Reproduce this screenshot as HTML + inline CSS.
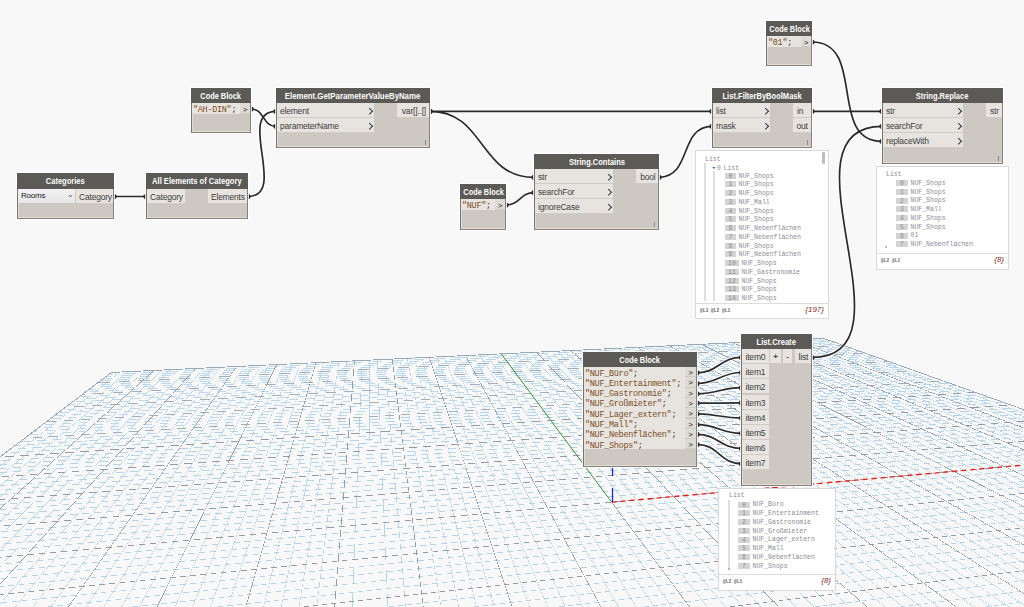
<!DOCTYPE html><html><head><meta charset="utf-8"><style>
*{margin:0;padding:0;box-sizing:border-box}
html,body{width:1024px;height:607px;overflow:hidden;background:#f8f8f8}
body{position:relative;font-family:"Liberation Sans",sans-serif}
svg{position:absolute;left:0;top:0}
.n{position:absolute;background:#cdc8c1;box-shadow:0 0 0 1px rgba(255,255,255,.85),inset 1px 0 0 #77736d,inset -1px -1px 0 #86817a,inset 2px -2px 0 #e2ddd4}
.h{position:absolute;left:0;top:0;right:0;background:#5c5a57;color:#fff;font-weight:bold;font-size:8.6px;text-align:center;white-space:nowrap}
.h span{display:inline-block}
.p,.cp,.pb,.dd{position:absolute;background:#e7e4df;color:#3c3c3c;font-size:8.5px;letter-spacing:-0.2px;white-space:nowrap;padding-left:3px;box-shadow:inset 0 -1px 0 #d0ccc5}
.cp{font-size:8px;text-align:center;padding:0;background:#dedad4;color:#101018}
.pb{text-align:center;padding:0;font-weight:bold;font-size:8px;line-height:15px!important}
.dd{background:linear-gradient(#f2f2f2,#e6e6e6);color:#1a1a1a;padding-left:3px;box-shadow:none;font-size:8px!important}
.ddc{position:absolute;right:1px;top:-1px;font-size:8px;color:#555}
.cv{position:absolute;right:2.5px;top:5.5px;width:4.5px;height:4.5px;border-right:1.9px solid #2a3a4c;border-bottom:1.9px solid #2a3a4c;transform:rotate(-45deg)}
.cbrow{position:absolute;left:1px;background:#e7e4df}
.cl{position:absolute;left:2px;z-index:2;font-family:"Liberation Mono",monospace;font-size:8.5px;letter-spacing:-0.3px;line-height:11px;color:#2a2a2a;white-space:nowrap}
.cl s{text-decoration:none;color:#7c4c24}
.lc{position:absolute;right:4.5px;bottom:3.5px;width:1px;height:5px;background:#8a8a9a}
.pvl div{position:absolute;white-space:nowrap;font-family:"Liberation Mono",monospace;font-size:6.5px;color:#8c8c98}
.pvl .pv{background:#fff;border:1px solid #d9d9d9}
.lt{color:#a07a70;line-height:8px}
.ixn{color:#90a0b8;line-height:8px}
.tl{width:2px;background:#dedede}
.ix{background:#d4d4d4;color:#8a8a96;text-align:center;height:6px;line-height:7px}
.it{line-height:8px}
.pvl .pf{height:1px;background:#dcdcdc}
.pvl .lv{font-size:4.6px;color:#666;line-height:5px;font-weight:bold}
.pvl .ct{font-family:"Liberation Sans",sans-serif;font-style:italic;font-size:8px;color:#8a2a2a;text-align:right;line-height:10px}
.sb{width:2.6px;height:12px;background:#bdbdbd;border-radius:1.3px}
.pvl .dot{width:2px;height:2px;background:#a8a8a8;border-radius:1px}
.arr{width:0;height:0;border-left:2px solid transparent;border-right:2px solid transparent;border-top:2.5px solid #4a86c8}
</style></head><body>
<svg class="grid" width="1024" height="607" viewBox="0 0 1024 607">
<path d="M-901.00 1171.79L120.10 372.28L119.76 371.84L-901.34 1171.36ZM-847.06 1161.33L128.67 371.87L128.32 371.44L-847.40 1160.90ZM-794.23 1151.08L137.19 371.46L136.84 371.03L-794.58 1150.66ZM-742.49 1141.05L145.68 371.05L145.32 370.63L-742.85 1140.63ZM-642.13 1121.59L162.56 370.23L162.19 369.83L-642.51 1121.19ZM-593.46 1112.15L170.95 369.83L170.57 369.44L-593.84 1111.75ZM-545.74 1102.89L179.30 369.43L178.91 369.04L-546.14 1102.51ZM-498.96 1093.82L187.62 369.03L187.22 368.65L-499.36 1093.44ZM-408.09 1076.19L204.15 368.23L203.74 367.87L-408.51 1075.83ZM-363.95 1067.63L212.37 367.83L211.95 367.48L-364.38 1067.28ZM-320.65 1059.23L220.56 367.43L220.12 367.10L-321.08 1058.89ZM-278.14 1050.98L228.71 367.04L228.26 366.71L-278.59 1050.66ZM-195.48 1034.94L244.91 366.25L244.45 365.95L-195.93 1034.64ZM-155.27 1027.14L252.96 365.86L252.49 365.57L-155.73 1026.85ZM-115.78 1019.48L260.98 365.47L260.51 365.20L-116.26 1019.20ZM-77.00 1011.95L268.97 365.08L268.48 364.82L-77.48 1011.69ZM-1.47 997.29L284.85 364.31L284.35 364.08L-1.97 997.07ZM35.32 990.15L292.74 363.92L292.23 363.71L34.81 989.94ZM71.46 983.14L300.60 363.54L300.09 363.35L70.95 982.95ZM107.00 976.24L308.43 363.16L307.91 362.98L106.47 976.07ZM176.27 962.79L323.99 362.39L323.46 362.26L175.74 962.66ZM210.04 956.23L331.73 362.01L331.19 361.90L209.50 956.12ZM243.26 949.78L339.43 361.63L338.89 361.54L242.72 949.69ZM275.93 943.43L347.11 361.26L346.56 361.19L275.38 943.37ZM339.69 931.05L362.36 360.50L361.81 360.48L339.14 931.03ZM370.81 925.00L369.94 360.13L369.39 360.13L370.26 925.00ZM401.44 919.05L377.50 359.76L376.95 359.78L400.89 919.08ZM431.58 913.20L385.02 359.39L384.47 359.43L431.03 913.24ZM490.46 901.76L399.97 358.65L399.43 358.74L489.92 901.85ZM519.22 896.17L407.41 358.29L406.87 358.40L518.69 896.28ZM547.55 890.67L414.81 357.92L414.28 358.05L547.02 890.80ZM575.44 885.25L422.19 357.56L421.66 357.71L574.92 885.40ZM629.99 874.65L436.85 356.84L436.34 357.03L629.47 874.84ZM656.65 869.47L444.14 356.48L443.64 356.69L656.15 869.68ZM682.93 864.37L451.41 356.12L450.90 356.35L682.43 864.60ZM708.82 859.34L458.64 355.77L458.15 356.02L708.33 859.58ZM759.49 849.50L473.02 355.07L472.55 355.34L759.01 849.77ZM784.28 844.68L480.17 354.72L479.71 355.01L783.81 844.97ZM808.72 839.94L487.30 354.37L486.84 354.68L808.26 840.24ZM832.81 835.26L494.40 354.03L493.95 354.34L832.36 835.57ZM880.00 826.09L508.51 353.34L508.08 353.68L879.57 826.43ZM903.11 821.61L515.53 353.00L515.10 353.35L902.69 821.96ZM925.90 817.18L522.52 352.66L522.10 353.02L925.49 817.54ZM948.39 812.82L529.48 352.32L529.07 352.69L947.98 813.19ZM992.45 804.27L543.33 351.65L542.94 352.04L992.06 804.65ZM1014.04 800.07L550.22 351.32L549.84 351.71L1013.65 800.47ZM1035.34 795.94L557.08 350.99L556.70 351.39L1034.97 796.34ZM1056.37 791.86L563.92 350.66L563.55 351.07L1056.00 792.27ZM1097.60 783.86L577.51 350.00L577.16 350.42L1097.25 784.28ZM1117.82 779.93L584.27 349.67L583.93 350.10L1117.47 780.36ZM1137.78 776.06L591.01 349.35L590.67 349.78L1137.44 776.49ZM1157.48 772.24L597.72 349.03L597.39 349.46L1157.15 772.67ZM1196.15 764.73L611.06 348.38L610.75 348.83L1195.83 765.18ZM1215.12 761.05L617.70 348.06L617.39 348.52L1214.81 761.50ZM1233.86 757.42L624.32 347.75L624.01 348.20L1233.55 757.87ZM1252.36 753.82L630.90 347.43L630.60 347.89L1252.06 754.29ZM1288.70 746.78L644.01 346.80L643.72 347.27L1288.41 747.24ZM1306.54 743.31L650.53 346.49L650.24 346.96L1306.25 743.78ZM1324.16 739.90L657.02 346.17L656.74 346.65L1323.88 740.37ZM1341.58 736.52L663.49 345.86L663.22 346.34L1341.30 736.99ZM1375.78 729.88L676.36 345.25L676.10 345.73L1375.52 730.36ZM1392.59 726.62L682.77 344.94L682.51 345.42L1392.33 727.11ZM1409.19 723.40L689.14 344.63L688.89 345.12L1408.94 723.89ZM1425.61 720.22L695.50 344.33L695.25 344.82L1425.36 720.70ZM1457.87 713.96L708.14 343.72L707.90 344.21L1457.63 714.45ZM1473.73 710.88L714.43 343.42L714.19 343.92L1473.49 711.38ZM1489.40 707.84L720.70 343.12L720.46 343.62L1489.17 708.34ZM1504.90 704.83L726.94 342.82L726.71 343.32L1504.67 705.33ZM1535.38 698.92L739.36 342.23L739.13 342.73L1535.15 699.42ZM1550.36 696.02L745.54 341.93L745.31 342.43L1550.14 696.52ZM1565.18 693.14L751.69 341.64L751.47 342.14L1564.97 693.65ZM1579.84 690.30L757.83 341.34L757.61 341.85L1579.63 690.81ZM1608.68 684.71L770.03 340.76L769.82 341.27L1608.47 685.21ZM1622.87 681.95L776.10 340.47L775.89 340.98L1622.66 682.46ZM1636.90 679.23L782.15 340.18L781.94 340.69L1636.70 679.74ZM1650.78 676.54L788.17 339.89L787.97 340.40L1650.58 677.05ZM1678.11 671.24L800.17 339.31L799.97 339.83L1677.92 671.75ZM1691.56 668.63L806.13 339.03L805.94 339.54L1691.37 669.15ZM1704.86 666.05L812.08 338.74L811.89 339.26L1704.68 666.57ZM1718.03 663.50L818.00 338.46L817.81 338.98L1717.85 664.01ZM-891.04 1133.08L1697.88 649.70L1697.77 649.16L-891.14 1132.54ZM-831.96 1088.28L1666.30 638.47L1666.20 637.93L-832.06 1087.73ZM-778.18 1047.48L1636.19 627.76L1636.10 627.21L-778.27 1046.94ZM-729.00 1010.18L1607.45 617.53L1607.36 616.99L-729.09 1009.64ZM-642.30 944.41L1553.70 598.41L1553.62 597.86L-642.38 943.87ZM-603.88 915.27L1528.55 589.46L1528.46 588.91L-603.97 914.73ZM-568.28 888.27L1504.43 580.88L1504.35 580.33L-568.36 887.72ZM-535.19 863.17L1481.30 572.65L1481.23 572.10L-535.27 862.62ZM-475.55 817.93L1437.76 557.16L1437.69 556.61L-475.63 817.38ZM-448.59 797.48L1417.25 549.86L1417.17 549.31L-448.66 796.93ZM-423.29 778.29L1397.50 542.83L1397.43 542.29L-423.36 777.74ZM-399.51 760.25L1378.49 536.07L1378.42 535.52L-399.58 759.71ZM-355.99 727.24L1342.50 523.26L1342.43 522.71L-356.06 726.70ZM-336.03 712.10L1325.45 517.19L1325.38 516.65L-336.09 711.55ZM-317.14 697.77L1308.98 511.34L1308.92 510.79L-317.20 697.22ZM-299.23 684.19L1293.08 505.68L1293.02 505.13L-299.29 683.64ZM-266.08 659.04L1262.83 494.91L1262.77 494.37L-266.14 658.49ZM-250.70 647.38L1248.44 489.79L1248.38 489.25L-250.76 646.83ZM-236.06 636.27L1234.50 484.83L1234.44 484.29L-236.11 635.72ZM-222.09 625.67L1221.00 480.03L1220.94 479.48L-222.14 625.12ZM-195.99 605.88L1195.22 470.86L1195.17 470.31L-196.05 605.33ZM-183.79 596.62L1182.91 466.48L1182.86 465.93L-183.84 596.07ZM-172.10 587.76L1170.96 462.23L1170.91 461.68L-172.16 587.21ZM-160.90 579.26L1159.35 458.10L1159.30 457.55L-160.95 578.71ZM-139.83 563.28L1137.12 450.19L1137.07 449.64L-139.88 562.73ZM-129.91 555.75L1126.47 446.40L1126.42 445.85L-129.96 555.21ZM-120.37 548.52L1116.11 442.71L1116.06 442.16L-120.42 547.97ZM-111.19 541.55L1106.03 439.12L1105.98 438.58L-111.24 541.00ZM-93.82 528.38L1086.66 432.23L1086.62 431.68L-93.87 527.83ZM-85.60 522.14L1077.36 428.92L1077.31 428.37L-85.64 521.59ZM-77.66 516.12L1068.29 425.69L1068.25 425.15L-77.71 515.57ZM-70.00 510.31L1059.45 422.55L1059.41 422.00L-70.04 509.76ZM-55.43 499.26L1042.43 416.49L1042.39 415.94L-55.48 498.71ZM-48.51 494.01L1034.23 413.58L1034.19 413.03L-48.55 493.46ZM-41.80 488.92L1026.22 410.73L1026.18 410.18L-41.84 488.37ZM-35.31 484.00L1018.41 407.95L1018.37 407.40L-35.35 483.45ZM-22.92 474.60L1003.33 402.58L1003.29 402.03L-22.96 474.05ZM-17.01 470.11L996.05 399.99L996.01 399.44L-17.05 469.57ZM-11.27 465.76L988.93 397.46L988.90 396.91L-11.31 465.21ZM-5.70 461.54L981.98 394.99L981.94 394.44L-5.74 460.99ZM4.96 453.45L968.53 390.20L968.49 389.65L4.93 452.90ZM10.07 449.57L962.02 387.88L961.98 387.33L10.04 449.02ZM15.04 445.80L955.65 385.62L955.62 385.07L15.00 445.25ZM19.87 442.14L949.42 383.40L949.39 382.85L19.84 441.59Z" fill="#b6d4e8" shape-rendering="crispEdges"/>
<path d="M29.15 435.07L937.34 379.08L937.31 378.58L29.12 434.58ZM33.61 431.69L931.49 377.00L931.46 376.50L33.58 431.20ZM37.95 428.40L925.76 374.96L925.73 374.46L37.92 427.90ZM42.18 425.19L920.15 372.96L920.12 372.46L42.15 424.69ZM50.33 419.01L909.25 369.08L909.22 368.58L50.30 418.51ZM54.25 416.04L903.96 367.20L903.93 366.70L54.22 415.54ZM58.08 413.13L898.77 365.36L898.74 364.86L58.05 412.63ZM61.81 410.30L893.69 363.55L893.66 363.05L61.78 409.80ZM69.02 404.83L883.80 360.03L883.77 359.53L68.99 404.33ZM72.50 402.19L879.00 358.32L878.97 357.82L72.47 401.69ZM75.90 399.61L874.28 356.64L874.25 356.14L75.87 399.12ZM79.22 397.09L869.65 354.99L869.62 354.49L79.19 396.60ZM85.64 392.22L860.64 351.79L860.62 351.29L85.62 391.72ZM88.75 389.86L856.26 350.23L856.23 349.73L88.73 389.37ZM91.79 387.56L851.95 348.70L851.93 348.20L91.77 387.06ZM94.76 385.30L847.72 347.19L847.70 346.69L94.74 384.80ZM100.53 380.93L839.48 344.26L839.46 343.76L100.50 380.43ZM103.32 378.82L835.47 342.83L835.44 342.33L103.29 378.32ZM106.05 376.74L831.52 341.43L831.50 340.93L106.03 376.24ZM108.73 374.71L827.64 340.04L827.61 339.55L108.70 374.21Z" fill="#bcd8ea" shape-rendering="crispEdges"/>
<path d="M-956.22 1182.53L1731.03 661.50L1730.92 660.96L-956.33 1181.99ZM-683.87 975.94L1579.98 607.76L1579.89 607.21L-683.96 975.40ZM-504.35 839.78L1459.10 564.75L1459.02 564.20L-504.43 839.23ZM-377.12 743.27L1360.17 529.55L1360.10 529.00L-377.19 742.72ZM-282.23 671.29L1277.70 500.21L1277.64 499.66L-282.29 670.75ZM-208.74 615.55L1207.91 475.37L1207.86 474.83L-208.80 615.00ZM-150.15 571.11L1148.08 454.09L1148.03 453.54L-150.20 570.56ZM-102.35 534.84L1096.22 435.63L1096.17 435.08L-102.39 534.30ZM-62.59 504.69L1050.83 419.48L1050.79 418.94L-62.64 504.14ZM-29.02 479.23L1010.78 405.23L1010.74 404.68L-29.06 478.68ZM-0.29 457.43L975.18 392.57L975.14 392.02L-0.33 456.88Z" fill="#939ca4" shape-rendering="crispEdges"/>
<path d="M24.57 438.57L943.32 381.23L943.28 380.68L24.54 438.02ZM46.31 422.09L914.64 371.03L914.61 370.48L46.27 421.54ZM65.46 407.56L888.70 361.79L888.67 361.25L65.43 407.01ZM82.47 394.66L865.11 353.40L865.08 352.85L82.44 394.11ZM97.68 383.12L843.57 345.74L843.54 345.19L97.65 382.57Z" fill="#a6aeb5" shape-rendering="crispEdges"/>
<path d="M-691.78 1131.24L154.16 370.66L153.76 370.21L-692.19 1130.79ZM-453.07 1084.94L195.92 368.64L195.48 368.24L-453.52 1084.53ZM-236.41 1042.90L236.84 366.66L236.35 366.32L-236.90 1042.56ZM-38.87 1004.57L276.95 364.71L276.41 364.44L-39.41 1004.30ZM141.95 969.46L316.25 362.78L315.67 362.61L141.37 969.30ZM308.10 937.19L354.77 360.88L354.18 360.83L307.50 937.14ZM461.27 907.43L392.54 359.02L391.94 359.09L460.68 907.51ZM602.94 879.90L429.56 357.19L428.99 357.38L602.38 880.09ZM734.36 854.37L465.87 355.41L465.34 355.69L733.83 854.66ZM856.59 830.63L501.49 353.67L501.00 354.03L856.11 830.99ZM970.58 808.50L536.44 351.97L536.00 352.38L970.15 808.91ZM1077.13 787.81L570.74 350.31L570.35 350.76L1076.74 788.27ZM1176.95 768.44L604.42 348.68L604.06 349.17L1176.60 768.92ZM1270.66 750.26L637.48 347.09L637.16 347.60L1270.33 750.76ZM1358.79 733.16L669.95 345.53L669.66 346.06L1358.50 733.68ZM1441.84 717.05L701.84 344.00L701.57 344.54L1441.57 717.58ZM1520.24 701.84L733.17 342.50L732.92 343.05L1519.99 702.39ZM1594.35 687.46L763.95 341.03L763.72 341.58L1594.12 688.02ZM1664.53 673.85L794.19 339.58L793.97 340.14L1664.31 674.41Z" fill="#929ca4" shape-rendering="crispEdges"/>
<path d="M-956.00 1182.62L111.61 372.83L111.07 372.11L-956.55 1181.90ZM1731.12 660.80L823.96 338.01L823.66 338.86L1730.82 661.65ZM111.36 372.92L823.83 338.89L823.79 337.99L111.32 372.02Z" fill="#98aab8" shape-rendering="crispEdges"/>
<path d="M611.67 502.16L501.25 353.85" stroke="#3a9a3a" stroke-width="0.9" fill="none"/>
<path d="M611.67 502.16L1236.83 445.81" stroke="#e8201c" stroke-width="1.4" stroke-dasharray="5 4" fill="none"/>
<path d="M612.5 502L612.5 488M612.5 476L612.5 466" stroke="#1a2ee0" stroke-width="1.3" fill="none"/>
</svg>
<svg class="wires" width="1024" height="607"><path d="M114 196.5C128.4 196.5 131.6 196.5 146 196.5M248 196.5C288.4 196.5 235.6 111.3 276 111.3M251 109C264.7 109 262.3 126.3 276 126.3M430 111.3C556.9 111.3 585.1 111.3 712 111.3M430 111.3C485.4 111.3 478.6 177.3 534 177.3M506 205C519.8 205 520.2 192.6 534 192.6M659 177.3C692.1 177.3 678.9 126.3 712 126.3M812 111.3C843.5 111.3 850.5 111.3 882 111.3M812 42C866.7 42 827.3 141.3 882 141.3M812 357.5C920.7 357.5 773.3 126.3 882 126.3M697 372.8C718.2 372.8 720.3 357.3 741.5 357.3M697 383.5C717.6 383.5 720.9 372.5 741.5 372.5M697 393.8C717.2 393.8 721.3 387.7 741.5 387.7M697 403.2C717.0 403.2 721.5 402.9 741.5 402.9M697 413.9C717.1 413.9 721.4 418.1 741.5 418.1M697 424.6C717.4 424.6 721.1 433.3 741.5 433.3M697 434.4C718.0 434.4 720.5 448.5 741.5 448.5M697 444.5C718.8 444.5 719.7 463.7 741.5 463.7" stroke="#fff" stroke-opacity="0.7" stroke-width="4" fill="none"/><path d="M114 196.5C128.4 196.5 131.6 196.5 146 196.5M248 196.5C288.4 196.5 235.6 111.3 276 111.3M251 109C264.7 109 262.3 126.3 276 126.3M430 111.3C556.9 111.3 585.1 111.3 712 111.3M430 111.3C485.4 111.3 478.6 177.3 534 177.3M506 205C519.8 205 520.2 192.6 534 192.6M659 177.3C692.1 177.3 678.9 126.3 712 126.3M812 111.3C843.5 111.3 850.5 111.3 882 111.3M812 42C866.7 42 827.3 141.3 882 141.3M812 357.5C920.7 357.5 773.3 126.3 882 126.3M697 372.8C718.2 372.8 720.3 357.3 741.5 357.3M697 383.5C717.6 383.5 720.9 372.5 741.5 372.5M697 393.8C717.2 393.8 721.3 387.7 741.5 387.7M697 403.2C717.0 403.2 721.5 402.9 741.5 402.9M697 413.9C717.1 413.9 721.4 418.1 741.5 418.1M697 424.6C717.4 424.6 721.1 433.3 741.5 433.3M697 434.4C718.0 434.4 720.5 448.5 741.5 448.5M697 444.5C718.8 444.5 719.7 463.7 741.5 463.7" stroke="#2b2b2b" stroke-width="1.7" fill="none"/><g fill="#2a2a2a"><circle cx="114" cy="196.5" r="2.6"/><circle cx="146" cy="196.5" r="2.6"/><circle cx="248" cy="196.5" r="2.6"/><circle cx="276" cy="111.3" r="2.6"/><circle cx="251" cy="109" r="2.6"/><circle cx="276" cy="126.3" r="2.6"/><circle cx="430" cy="111.3" r="2.6"/><circle cx="712" cy="111.3" r="2.6"/><circle cx="430" cy="111.3" r="2.6"/><circle cx="534" cy="177.3" r="2.6"/><circle cx="506" cy="205" r="2.6"/><circle cx="534" cy="192.6" r="2.6"/><circle cx="659" cy="177.3" r="2.6"/><circle cx="712" cy="126.3" r="2.6"/><circle cx="812" cy="111.3" r="2.6"/><circle cx="882" cy="111.3" r="2.6"/><circle cx="812" cy="42" r="2.6"/><circle cx="882" cy="141.3" r="2.6"/><circle cx="812" cy="357.5" r="2.6"/><circle cx="882" cy="126.3" r="2.6"/><circle cx="697" cy="372.8" r="2.6"/><circle cx="741.5" cy="357.3" r="2.6"/><circle cx="697" cy="383.5" r="2.6"/><circle cx="741.5" cy="372.5" r="2.6"/><circle cx="697" cy="393.8" r="2.6"/><circle cx="741.5" cy="387.7" r="2.6"/><circle cx="697" cy="403.2" r="2.6"/><circle cx="741.5" cy="402.9" r="2.6"/><circle cx="697" cy="413.9" r="2.6"/><circle cx="741.5" cy="418.1" r="2.6"/><circle cx="697" cy="424.6" r="2.6"/><circle cx="741.5" cy="433.3" r="2.6"/><circle cx="697" cy="434.4" r="2.6"/><circle cx="741.5" cy="448.5" r="2.6"/><circle cx="697" cy="444.5" r="2.6"/><circle cx="741.5" cy="463.7" r="2.6"/></g></svg>
<div class="n" style="left:17px;top:173px;width:97px;height:46px"><div class="h" style="height:16px;line-height:17px"><span style="transform:scaleX(0.873)">Categories</span></div><div class="dd" style="left:1px;top:16px;width:57px;height:14px;line-height:14px">Rooms<span class="ddc">&#8964;</span></div><div class="p" style="left:59px;top:16px;width:37px;height:15px;line-height:17px;text-align:right;padding-right:3px">Category</div></div><div class="n" style="left:146px;top:173px;width:102px;height:46px"><div class="h" style="height:16px;line-height:17px"><span style="transform:scaleX(0.880)">All Elements of Category</span></div><div class="p" style="left:1px;top:16px;width:38px;height:15px;line-height:17px;">Category</div><div class="p" style="left:62px;top:16px;width:39px;height:15px;line-height:17px;text-align:right;padding-right:3px">Elements</div></div><div class="n" style="left:191px;top:88px;width:60px;height:45px"><div class="h" style="height:15px;line-height:16px"><span style="transform:scaleX(0.858)">Code Block</span></div><div class="cl" style="top:16.5px"><s>"AH-DIN"</s>;</div><div class="cbrow" style="top:15px;width:49px;height:11px"></div><div class="cp" style="left:49px;top:15px;width:10px;height:11px;line-height:13px;">&gt;</div></div><div class="n" style="left:276px;top:88px;width:154px;height:60px"><div class="h" style="height:15px;line-height:16px"><span style="transform:scaleX(0.909)">Element.GetParameterValueByName</span></div><div class="p" style="left:1px;top:15px;width:97px;height:15px;line-height:17px;">element<i class="cv"></i></div><div class="p" style="left:1px;top:30px;width:97px;height:15px;line-height:17px;">parameterName<i class="cv"></i></div><div class="p" style="left:121px;top:15px;width:32px;height:15px;line-height:17px;text-align:right;padding-right:3px">var[]..[]</div><b class="lc"></b></div><div class="n" style="left:460px;top:184px;width:46px;height:46px"><div class="h" style="height:15px;line-height:16px"><span style="transform:scaleX(0.858)">Code Block</span></div><div class="cl" style="top:16.5px"><s>"NUF"</s>;</div><div class="cbrow" style="top:15px;width:35px;height:11px"></div><div class="cp" style="left:35px;top:15px;width:10px;height:11px;line-height:13px;">&gt;</div></div><div class="n" style="left:534px;top:154px;width:125px;height:76px"><div class="h" style="height:15px;line-height:16px"><span style="transform:scaleX(0.875)">String.Contains</span></div><div class="p" style="left:1px;top:15px;width:78px;height:15px;line-height:17px;">str<i class="cv"></i></div><div class="p" style="left:1px;top:30px;width:78px;height:15px;line-height:17px;">searchFor<i class="cv"></i></div><div class="p" style="left:1px;top:45px;width:78px;height:15px;line-height:17px;">ignoreCase<i class="cv"></i></div><div class="p" style="left:102px;top:15px;width:22px;height:15px;line-height:17px;text-align:right;padding-right:2.5px">bool</div><b class="lc"></b></div><div class="n" style="left:712px;top:88px;width:100px;height:60px"><div class="h" style="height:15px;line-height:16px"><span style="transform:scaleX(0.878)">List.FilterByBoolMask</span></div><div class="p" style="left:1px;top:15px;width:57px;height:15px;line-height:17px;">list<i class="cv"></i></div><div class="p" style="left:1px;top:30px;width:57px;height:15px;line-height:17px;">mask<i class="cv"></i></div><div class="p" style="left:81px;top:15px;width:18px;height:15px;line-height:17px;padding-left:4px">in</div><div class="p" style="left:81px;top:30px;width:18px;height:15px;line-height:17px;padding-left:3.5px">out</div><b class="lc"></b></div><div class="n" style="left:766px;top:21px;width:46px;height:45px"><div class="h" style="height:15px;line-height:16px"><span style="transform:scaleX(0.858)">Code Block</span></div><div class="cl" style="top:16.5px"><s>"01"</s>;</div><div class="cbrow" style="top:15px;width:35px;height:11px"></div><div class="cp" style="left:35px;top:15px;width:10px;height:11px;line-height:13px;">&gt;</div></div><div class="n" style="left:882px;top:88px;width:121px;height:76px"><div class="h" style="height:15px;line-height:16px"><span style="transform:scaleX(0.872)">String.Replace</span></div><div class="p" style="left:1px;top:15px;width:80px;height:15px;line-height:17px;">str<i class="cv"></i></div><div class="p" style="left:1px;top:30px;width:80px;height:15px;line-height:17px;">searchFor<i class="cv"></i></div><div class="p" style="left:1px;top:45px;width:80px;height:15px;line-height:17px;">replaceWith<i class="cv"></i></div><div class="p" style="left:104px;top:15px;width:16px;height:15px;line-height:17px;padding-left:4px">str</div><b class="lc"></b></div><div class="n" style="left:583px;top:352px;width:114px;height:115px"><div class="h" style="height:15px;line-height:16px"><span style="transform:scaleX(0.858)">Code Block</span></div><div class="cl" style="top:16.5px"><s>"NUF_B&uuml;ro"</s>;</div><div class="cl" style="top:26.8px"><s>"NUF_Entertainment"</s>;</div><div class="cl" style="top:37.1px"><s>"NUF_Gastronomie"</s>;</div><div class="cl" style="top:47.400000000000006px"><s>"NUF_Gro&szlig;mieter"</s>;</div><div class="cl" style="top:57.7px"><s>"NUF_Lager_extern"</s>;</div><div class="cl" style="top:68.0px"><s>"NUF_Mall"</s>;</div><div class="cl" style="top:78.30000000000001px"><s>"NUF_Nebenfl&auml;chen"</s>;</div><div class="cl" style="top:88.60000000000001px"><s>"NUF_Shops"</s>;</div><div class="cbrow" style="top:15px;width:102px;height:82.4px"></div><div class="cp" style="left:102px;top:15.0px;width:11px;height:10.3px;line-height:12.3px;">&gt;</div><div class="cp" style="left:102px;top:25.3px;width:11px;height:10.3px;line-height:12.3px;">&gt;</div><div class="cp" style="left:102px;top:35.6px;width:11px;height:10.3px;line-height:12.3px;">&gt;</div><div class="cp" style="left:102px;top:45.900000000000006px;width:11px;height:10.3px;line-height:12.3px;">&gt;</div><div class="cp" style="left:102px;top:56.2px;width:11px;height:10.3px;line-height:12.3px;">&gt;</div><div class="cp" style="left:102px;top:66.5px;width:11px;height:10.3px;line-height:12.3px;">&gt;</div><div class="cp" style="left:102px;top:76.80000000000001px;width:11px;height:10.3px;line-height:12.3px;">&gt;</div><div class="cp" style="left:102px;top:87.10000000000001px;width:11px;height:10.3px;line-height:12.3px;">&gt;</div></div><div class="n" style="left:741px;top:334px;width:71px;height:152px"><div class="h" style="height:15px;line-height:16px"><span style="transform:scaleX(0.886)">List.Create</span></div><div class="p" style="left:1px;top:15.0px;width:27px;height:15px;line-height:17px;padding-left:3.5px">item0</div><div class="p" style="left:1px;top:30.2px;width:27px;height:15px;line-height:17px;padding-left:3.5px">item1</div><div class="p" style="left:1px;top:45.4px;width:27px;height:15px;line-height:17px;padding-left:3.5px">item2</div><div class="p" style="left:1px;top:60.599999999999994px;width:27px;height:15px;line-height:17px;padding-left:3.5px">item3</div><div class="p" style="left:1px;top:75.8px;width:27px;height:15px;line-height:17px;padding-left:3.5px">item4</div><div class="p" style="left:1px;top:91.0px;width:27px;height:15px;line-height:17px;padding-left:3.5px">item5</div><div class="p" style="left:1px;top:106.19999999999999px;width:27px;height:15px;line-height:17px;padding-left:3.5px">item6</div><div class="p" style="left:1px;top:121.39999999999999px;width:27px;height:15px;line-height:17px;padding-left:3.5px">item7</div><div class="pb" style="left:29px;top:15px;width:11px;height:15px;line-height:17px;">+</div><div class="pb" style="left:42px;top:15px;width:9px;height:15px;line-height:17px;">-</div><div class="p" style="left:54px;top:15px;width:16px;height:15px;line-height:17px;padding-left:3.5px">list</div></div><div class="pvl"><div class="pv" style="left:695px;top:150px;width:134px;height:169px"></div><div class="pf" style="left:696px;top:303px;width:132px"></div><div class="lv" style="left:700px;top:308px">@L3 @L2 @L1</div><div class="ct" style="left:800px;top:305px;width:24px">{197}</div><div class="sb" style="left:822.3px;top:151.5px"></div><div class="lt" style="left:705px;top:156px">List</div><div class="tl" style="left:704px;top:163px;height:138px"></div><div class="tl" style="left:713px;top:171px;height:130px"></div><div class="arr" style="left:712px;top:167px"></div><div class="ixn" style="left:717px;top:165px">0</div><div class="lt" style="left:723.5px;top:164.5px">List</div><div class="ix" style="left:725px;top:172.70px;width:11px">0</div><div class="it" style="left:738.5px;top:172.50px">NUF_Shops</div><div class="ix" style="left:725px;top:181.45px;width:11px">1</div><div class="it" style="left:738.5px;top:181.25px">NUF_Shops</div><div class="ix" style="left:725px;top:190.20px;width:11px">2</div><div class="it" style="left:738.5px;top:190.00px">NUF_Shops</div><div class="ix" style="left:725px;top:198.95px;width:11px">3</div><div class="it" style="left:738.5px;top:198.75px">NUF_Mall</div><div class="ix" style="left:725px;top:207.70px;width:11px">4</div><div class="it" style="left:738.5px;top:207.50px">NUF_Shops</div><div class="ix" style="left:725px;top:216.45px;width:11px">5</div><div class="it" style="left:738.5px;top:216.25px">NUF_Shops</div><div class="ix" style="left:725px;top:225.20px;width:11px">6</div><div class="it" style="left:738.5px;top:225.00px">NUF_Nebenfl&auml;chen</div><div class="ix" style="left:725px;top:233.95px;width:11px">7</div><div class="it" style="left:738.5px;top:233.75px">NUF_Nebenfl&auml;chen</div><div class="ix" style="left:725px;top:242.70px;width:11px">8</div><div class="it" style="left:738.5px;top:242.50px">NUF_Shops</div><div class="ix" style="left:725px;top:251.45px;width:11px">9</div><div class="it" style="left:738.5px;top:251.25px">NUF_Nebenfl&auml;chen</div><div class="ix" style="left:725px;top:260.20px;width:14px">10</div><div class="it" style="left:741.5px;top:260.00px">NUF_Shops</div><div class="ix" style="left:725px;top:268.95px;width:14px">11</div><div class="it" style="left:741.5px;top:268.75px">NUF_Gastronomie</div><div class="ix" style="left:725px;top:277.70px;width:14px">12</div><div class="it" style="left:741.5px;top:277.50px">NUF_Shops</div><div class="ix" style="left:725px;top:286.45px;width:14px">13</div><div class="it" style="left:741.5px;top:286.25px">NUF_Shops</div><div class="ix" style="left:725px;top:295.20px;width:14px">14</div><div class="it" style="left:741.5px;top:295.00px">NUF_Shops</div><div class="pv" style="left:876px;top:166px;width:133px;height:104px"></div><div class="pf" style="left:877px;top:253px;width:131px"></div><div class="lv" style="left:881px;top:258px">@L2 @L1</div><div class="ct" style="left:980px;top:255px;width:24px">{8}</div><div class="lt" style="left:886px;top:171px">List</div><div class="dot" style="left:885px;top:246px"></div><div class="ix" style="left:896px;top:180.00px;width:12px">0</div><div class="it" style="left:910.5px;top:179.80px">NUF_Shops</div><div class="ix" style="left:896px;top:188.75px;width:12px">1</div><div class="it" style="left:910.5px;top:188.55px">NUF_Shops</div><div class="ix" style="left:896px;top:197.50px;width:12px">2</div><div class="it" style="left:910.5px;top:197.30px">NUF_Shops</div><div class="ix" style="left:896px;top:206.25px;width:12px">3</div><div class="it" style="left:910.5px;top:206.05px">NUF_Mall</div><div class="ix" style="left:896px;top:215.00px;width:12px">4</div><div class="it" style="left:910.5px;top:214.80px">NUF_Shops</div><div class="ix" style="left:896px;top:223.75px;width:12px">5</div><div class="it" style="left:910.5px;top:223.55px">NUF_Shops</div><div class="ix" style="left:896px;top:232.50px;width:12px">6</div><div class="it" style="left:910.5px;top:232.30px">01</div><div class="ix" style="left:896px;top:241.25px;width:12px">7</div><div class="it" style="left:910.5px;top:241.05px">NUF_Nebenfl&auml;chen</div><div class="pv" style="left:718px;top:488px;width:118px;height:103px"></div><div class="pf" style="left:719px;top:574px;width:116px"></div><div class="lv" style="left:723px;top:579px">@L2 @L1</div><div class="ct" style="left:807px;top:576px;width:24px">{8}</div><div class="lt" style="left:729px;top:491.5px">List</div><div class="tl" style="left:728px;top:500px;height:69px"></div><div class="dot" style="left:727.5px;top:568px"></div><div class="ix" style="left:738px;top:501.50px;width:12px">0</div><div class="it" style="left:752.5px;top:501.30px">NUF_B&uuml;ro</div><div class="ix" style="left:738px;top:510.27px;width:12px">1</div><div class="it" style="left:752.5px;top:510.07px">NUF_Entertainment</div><div class="ix" style="left:738px;top:519.04px;width:12px">2</div><div class="it" style="left:752.5px;top:518.84px">NUF_Gastronomie</div><div class="ix" style="left:738px;top:527.81px;width:12px">3</div><div class="it" style="left:752.5px;top:527.61px">NUF_Gro&szlig;mieter</div><div class="ix" style="left:738px;top:536.58px;width:12px">4</div><div class="it" style="left:752.5px;top:536.38px">NUF_Lager_extern</div><div class="ix" style="left:738px;top:545.35px;width:12px">5</div><div class="it" style="left:752.5px;top:545.15px">NUF_Mall</div><div class="ix" style="left:738px;top:554.12px;width:12px">6</div><div class="it" style="left:752.5px;top:553.92px">NUF_Nebenfl&auml;chen</div><div class="ix" style="left:738px;top:562.89px;width:12px">7</div><div class="it" style="left:752.5px;top:562.69px">NUF_Shops</div></div>
</body></html>
